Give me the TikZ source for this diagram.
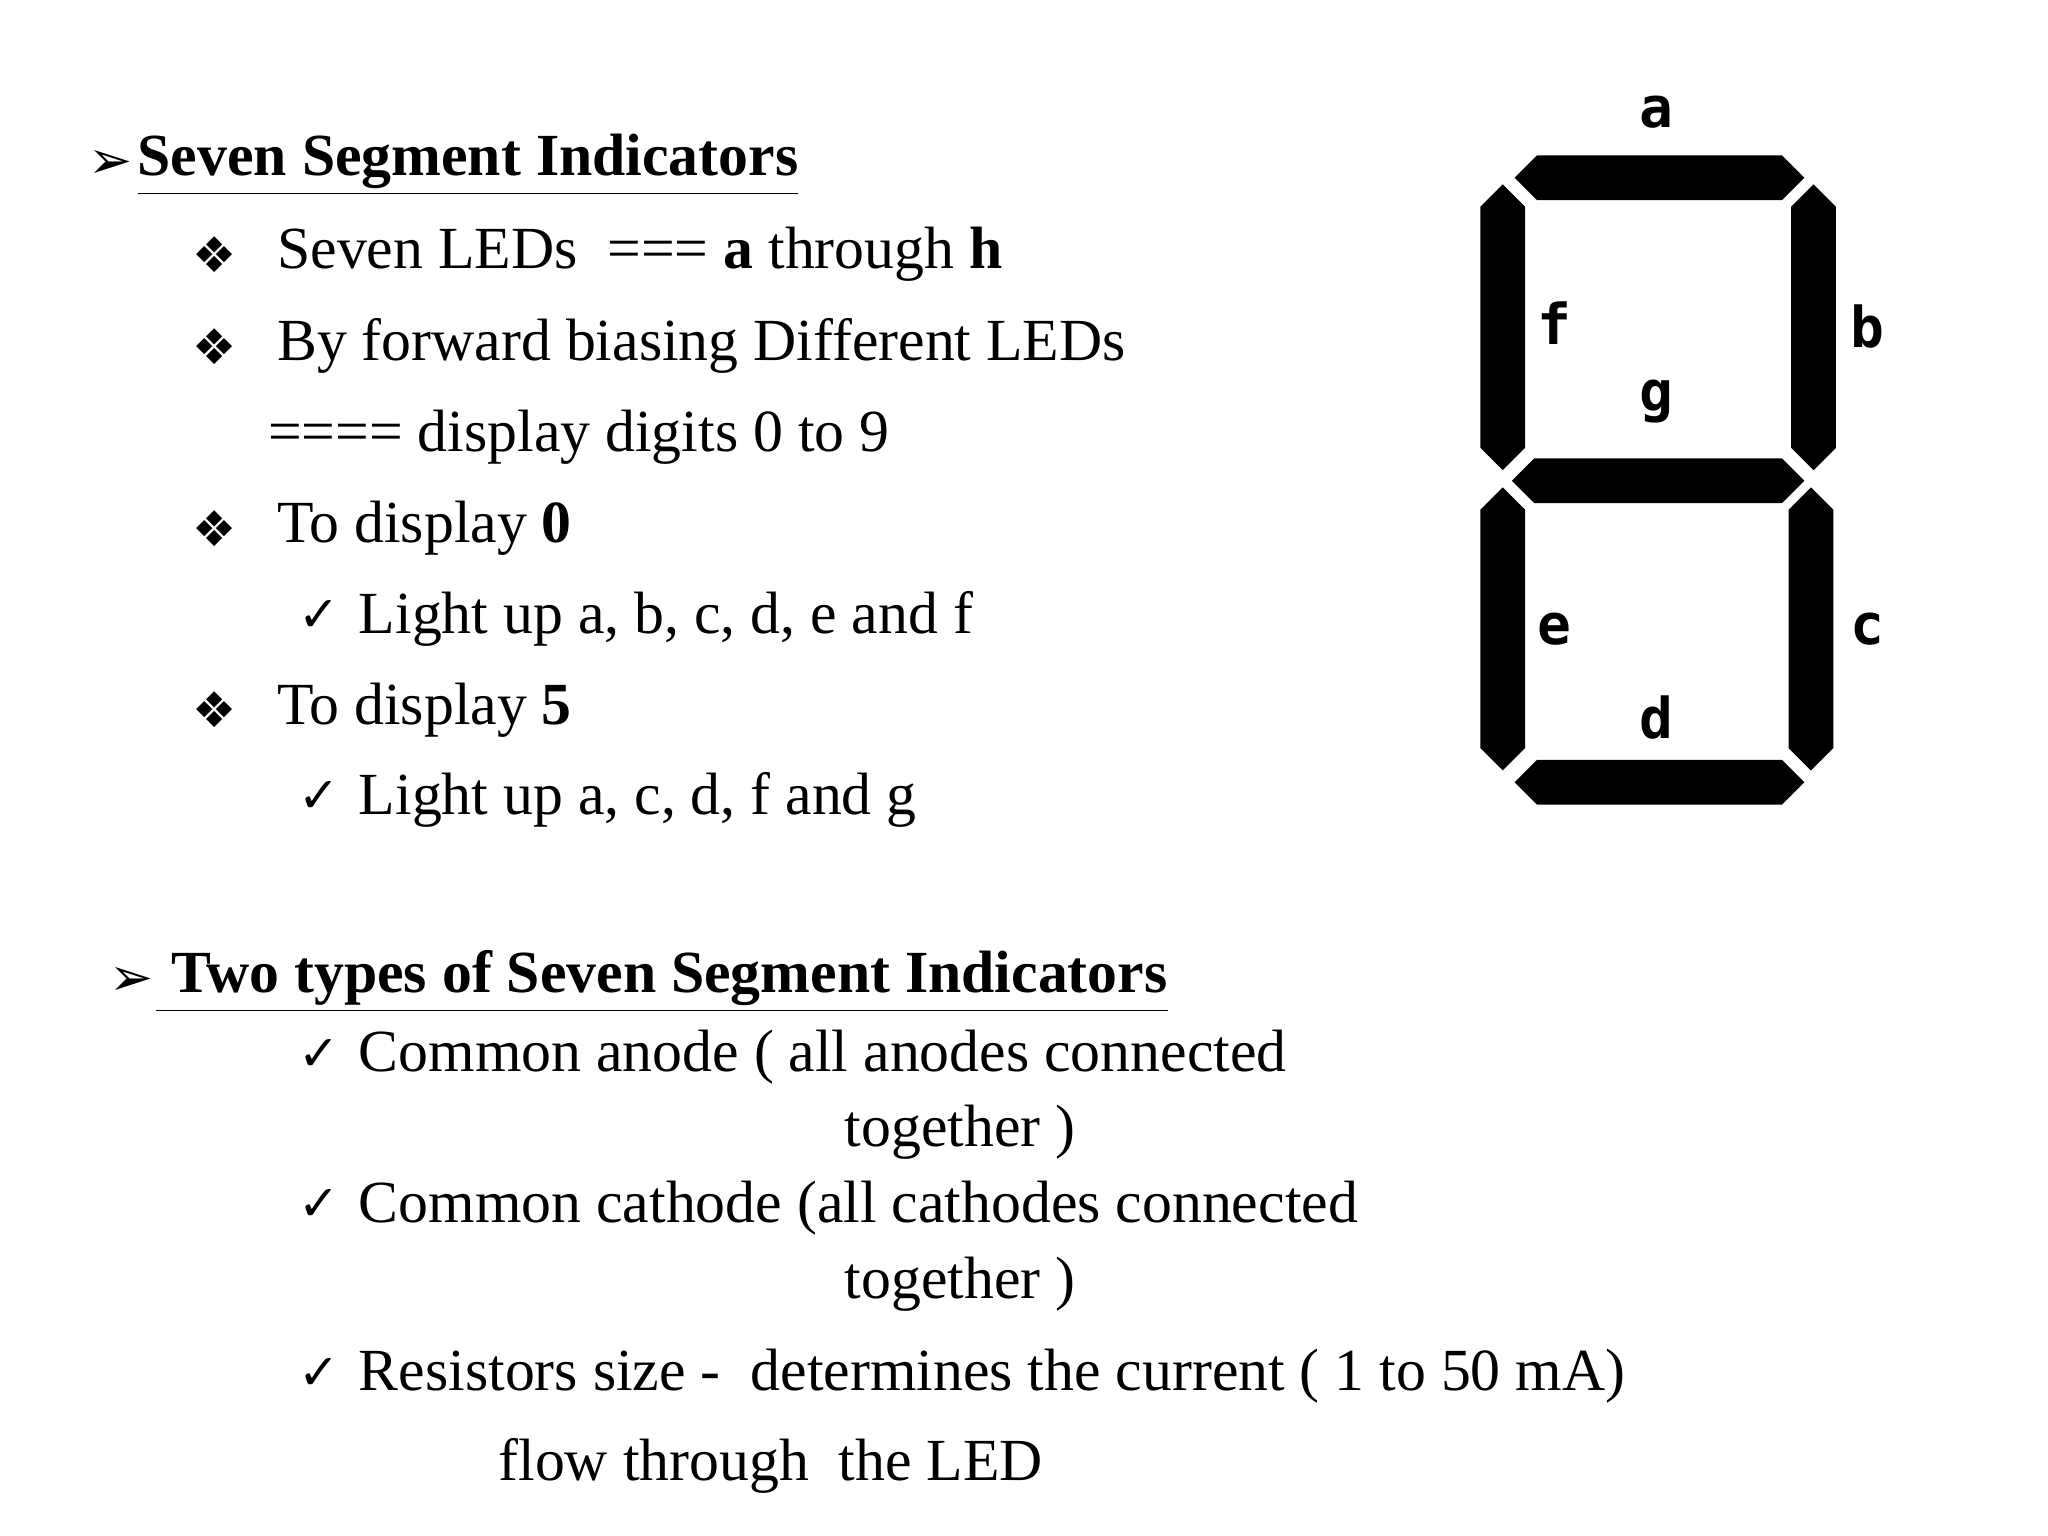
\documentclass[tikz,border=0pt]{standalone}
\usepackage{fontspec}
\setmainfont{Liberation Serif}
\newfontfamily\dv{DejaVu Sans}
\newfontfamily\dvb{DejaVu Sans Mono}
\begin{document}
\begin{tikzpicture}[x=0.01317cm,y=-0.01317cm,
  txt/.style={anchor=west,inner sep=0pt,font=\fontsize{17}{20}\selectfont},
  sym/.style={anchor=center,inner sep=0pt,font=\dv\fontsize{14}{16}\selectfont},
  seglbl/.style={anchor=center,inner sep=0pt,font=\dvb\bfseries\fontsize{16}{18}\selectfont},
  seg/.style={fill=black,draw=none}]
\useasboundingbox (0,0) rectangle (1555,1166);
% headings
\node[sym,font=\dv\fontsize{15}{16}\selectfont] (h1a) at (84,125) {➢};
\node[txt,font=\bfseries\fontsize{17}{20}\selectfont] (h1) at (104,125) {\underline{Seven Segment Indicators}};
\node[sym] (b1) at (163,193) {❖};
\node[txt] (t1) at (210,193) {Seven LEDs\ \ === \textbf{a} through \textbf{h}};
\node[sym] (b2) at (163,263) {❖};
\node[txt] (t2) at (210,263) {By forward biasing Different LEDs};
\node[txt] (t3) at (203,332) {==== display digits 0 to 9};
\node[sym] (b3) at (163,401) {❖};
\node[txt] (t4) at (210,401) {To display \textbf{0}};
\node[sym] (c1) at (242,468) {✓};
\node[txt] (t5) at (272,470) {Light up a, b, c, d, e and f};
\node[sym] (b4) at (163,539) {❖};
\node[txt] (t6) at (210,539) {To display \textbf{5}};
\node[sym] (c2) at (242,605) {✓};
\node[txt] (t7) at (272,607) {Light up a, c, d, f and g};
\node[sym,font=\dv\fontsize{15}{16}\selectfont] (h2a) at (100,745) {➢};
\node[txt,font=\bfseries\fontsize{17}{20}\selectfont] (h2) at (118,745) {\underline{\ Two types of Seven Segment Indicators}};
\node[sym] (c3) at (242,801) {✓};
\node[txt] (t8) at (272,803) {Common anode ( all anodes connected};
\node[txt] (t9) at (641,860) {together )};
\node[sym] (c4) at (242,915) {✓};
\node[txt] (t10) at (272,917) {Common cathode (all cathodes connected};
\node[txt] (t11) at (641,975) {together )};
\node[sym] (c5) at (242,1043) {✓};
\node[txt] (t12) at (272,1045) {Resistors size -\ \ determines the current ( 1 to 50 mA)};
\node[txt] (t13) at (378,1113) {flow through\ \ the LED};
% seven segment
\def\hs#1#2#3{\fill[seg] (#1,#3) -- ++(17,-17) -- (#2-17,#3-17) -- (#2,#3) -- (#2-17,#3+17) -- (#1+17,#3+17) -- cycle;}
\def\vs#1#2#3{\fill[seg] (#1,#2) -- ++(-17,17) -- (#1-17,#3-17) -- (#1,#3) -- (#1+17,#3-17) -- (#1+17,#2+17) -- cycle;}
\hs{1150}{1370}{135}
\hs{1148}{1370}{365}
\hs{1150}{1370}{594}
\vs{1141}{140}{357}
\vs{1377}{140}{357}
\vs{1141}{370}{585}
\vs{1375}{370}{585}
\node[seglbl] (la) at (1258,85) {a};
\node[seglbl] (lf) at (1180,245) {f};
\node[seglbl] (lb) at (1418,248) {b};
\node[seglbl] (lg) at (1258,305) {g};
\node[seglbl] (le) at (1180,478) {e};
\node[seglbl] (lc) at (1418,478) {c};
\node[seglbl] (ld) at (1258,545) {d};
\end{tikzpicture}
\end{document}
